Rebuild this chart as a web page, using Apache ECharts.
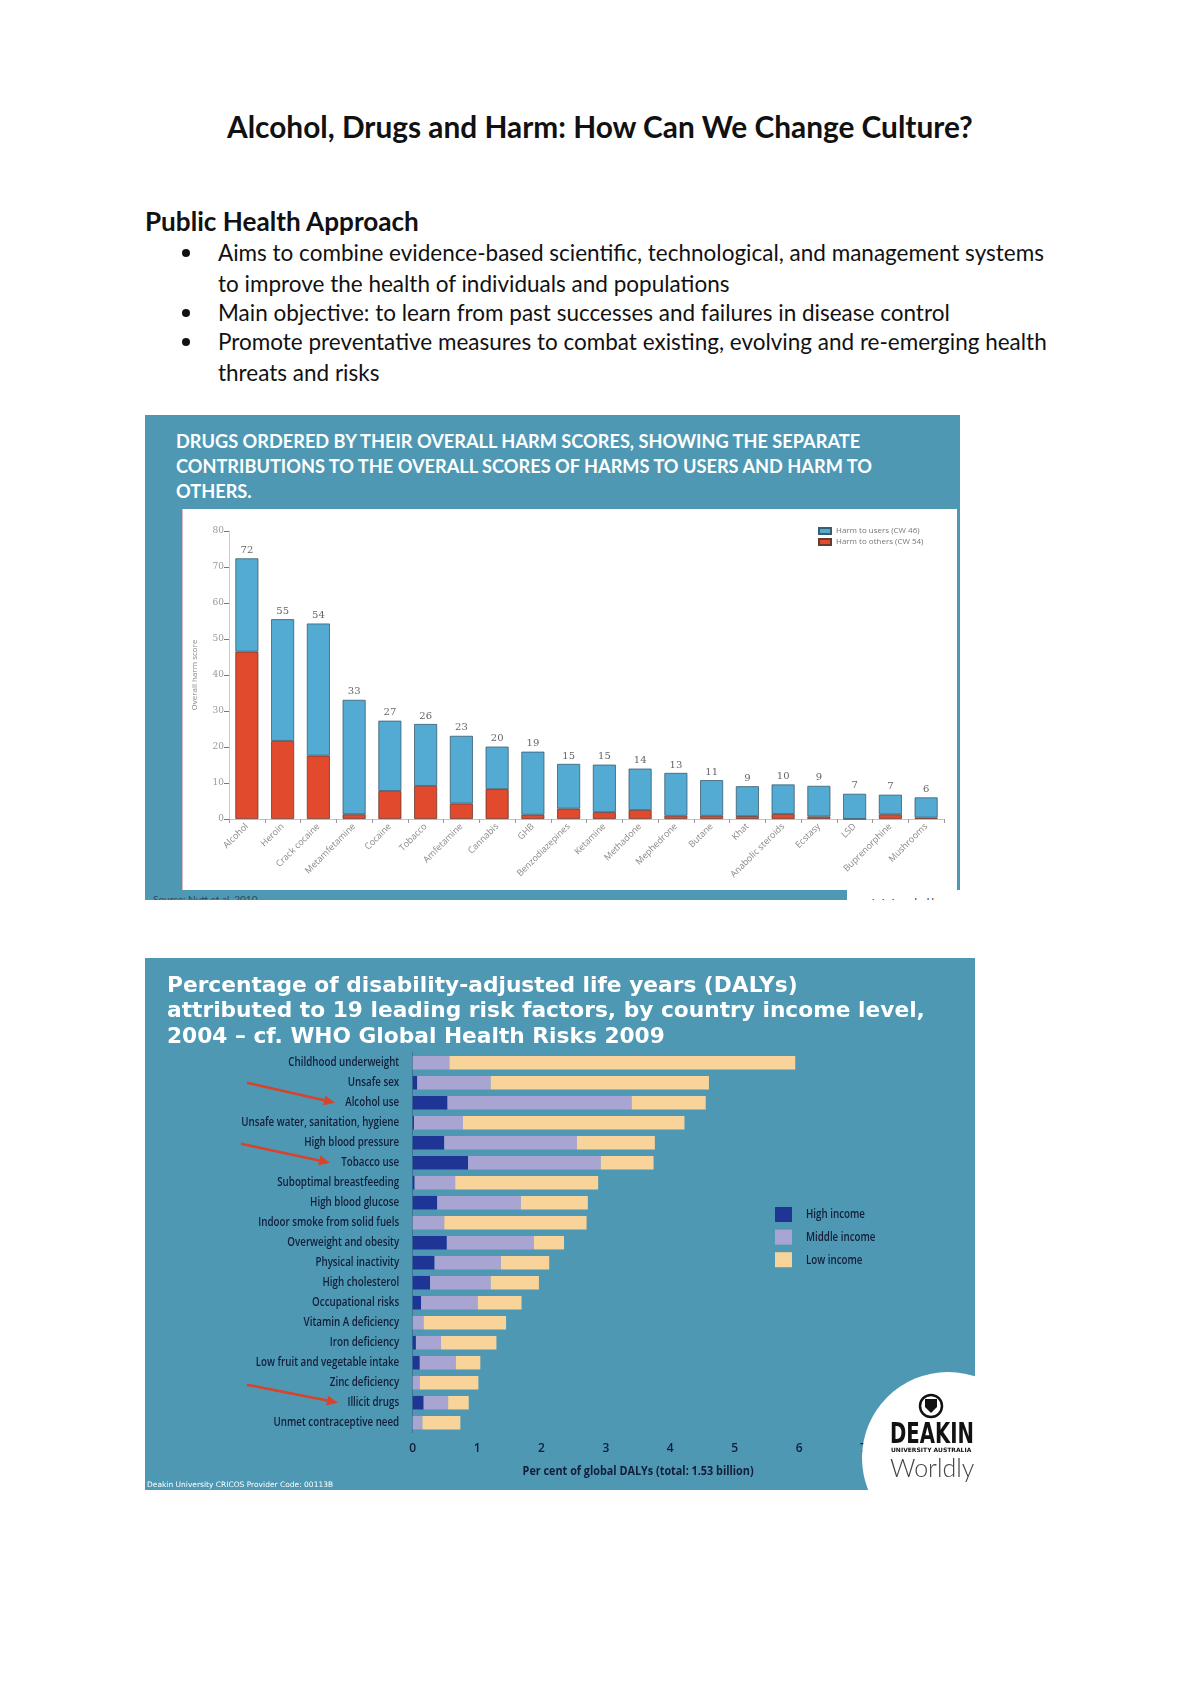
<!DOCTYPE html>
<html><head><meta charset="utf-8">
<script src="https://cdn.jsdelivr.net/npm/echarts@6/dist/echarts.min.js"></script>
<style>
html,body{margin:0;padding:0;background:#fff;}
body{width:1200px;height:1698px;position:relative;overflow:hidden;font-family:Lato,'Open Sans',sans-serif;color:#111;}
.t{position:absolute;white-space:nowrap;line-height:normal;}
.dot{position:absolute;width:8px;height:8px;border-radius:50%;background:#111;}
#p1{position:absolute;left:145px;top:415px;width:815px;height:485px;background:#4e98b4;}
#c1{position:absolute;left:182px;top:509px;width:774px;height:381px;background:#fff;border-left:1px solid #d8b9c2;}
#c2{position:absolute;left:145px;top:958px;width:830px;height:532px;background:#4e98b4;}
#strip{position:absolute;left:145px;top:890px;width:815px;height:10px;overflow:hidden;}
</style></head><body>
<div id="p1"></div>
<div id="strip"></div>
<div id="c1"></div>
<div id="c2"></div>
<script>
// ---------- data: chart 1 (Nutt et al. 2010) ----------
const drugs = ['Alcohol','Heroin','Crack cocaine','Metamfetamine','Cocaine','Tobacco','Amfetamine','Cannabis','GHB','Benzodiazepines','Ketamine','Methadone','Mephedrone','Butane','Khat','Anabolic steroids','Ecstasy','LSD','Buprenorphine','Mushrooms'];
const harmToOthers = [46.5,21.7,17.6,1.3,7.8,9.2,4.3,8.3,1.2,2.9,1.9,2.5,0.9,0.9,0.8,1.4,0.7,0,1.3,0.4];
const harmToUsers = [25.9,33.8,36.7,31.8,19.5,17.2,18.8,11.8,17.5,12.4,13.2,11.5,11.9,9.9,8.3,8.2,8.5,7.0,5.45,5.6];
const overallLabels = [72,55,54,33,27,26,23,20,19,15,15,14,13,11,9,10,9,7,7,6];
const harmTicks = [0,10,20,30,40,50,60,70,80];

// ---------- data: chart 2 (WHO Global Health Risks 2009) ----------
const riskFactors = ['Childhood underweight','Unsafe sex','Alcohol use','Unsafe water, sanitation, hygiene','High blood pressure','Tobacco use','Suboptimal breastfeeding','High blood glucose','Indoor smoke from solid fuels','Overweight and obesity','Physical inactivity','High cholesterol','Occupational risks','Vitamin A deficiency','Iron deficiency','Low fruit and vegetable intake','Zinc deficiency','Illicit drugs','Unmet contraceptive need'];
const highIncome   = [0,0.07,0.54,0.02,0.49,0.86,0.03,0.38,0,0.53,0.34,0.27,0.13,0,0.05,0.11,0,0.17,0];
const middleIncome = [0.57,1.14,2.86,0.76,2.06,2.06,0.63,1.30,0.49,1.35,1.03,0.94,0.88,0.17,0.39,0.56,0.11,0.38,0.15];
const lowIncome    = [5.37,3.39,1.15,3.44,1.21,0.82,2.22,1.04,2.21,0.47,0.75,0.75,0.68,1.28,0.86,0.38,0.91,0.32,0.59];
const incomeGroups = ['High income','Middle income','Low income'];
const dalyTicks = [0,1,2,3,4,5,6,7];
const dalyAxisName = 'Per cent of global DALYs (total: 1.53 billion)';
const arrowedRisks = ['Alcohol use','Tobacco use','Illicit drugs'];

// ---------- page text ----------
const pageTitle = 'Alcohol, Drugs and Harm: How Can We Change Culture?';
const sectionHeading = 'Public Health Approach';
const bulletLines = [
  ['Aims to combine evidence-based scientific, technological, and management systems','to improve the health of individuals and populations'],
  ['Main objective: to learn from past successes and failures in disease control'],
  ['Promote preventative measures to combat existing, evolving and re-emerging health','threats and risks']
];
const panel1Title = ['DRUGS ORDERED BY THEIR OVERALL HARM SCORES, SHOWING THE SEPARATE','CONTRIBUTIONS TO THE OVERALL SCORES OF HARMS TO USERS AND HARM TO','OTHERS.'];
const panel2Title = ['Percentage of disability-adjusted life years (DALYs)','attributed to 19 leading risk factors, by country income level,','2004 \u2013 cf. WHO Global Health Risks 2009'];

function placeText(txt, o){
  const el = document.createElement('div');
  el.className = 't';
  el.textContent = txt;
  el.style.fontFamily = o.font; el.style.fontWeight = o.weight || 'normal';
  el.style.fontSize = o.size + 'px'; el.style.color = o.color || '#111';
  el.style.left = o.x + 'px'; el.style.top = '0px';
  (o.parent || document.body).appendChild(el);
  let fs = o.size;
  if (o.width){ const w = el.getBoundingClientRect().width; fs = o.size * o.width / w; el.style.fontSize = fs + 'px'; }
  const probe = document.createElement('span');
  probe.style.cssText = 'display:inline-block;width:0;height:0;vertical-align:baseline';
  el.appendChild(probe);
  const base = probe.offsetTop;
  const baseline = (o.baseline !== undefined) ? o.baseline : o.cy + (o.capH || 0.72) * fs / 2;
  el.style.top = (baseline - base) + 'px';
  return fs;
}

placeText(pageTitle, {font:'Lato', weight:'bold', size:28, x:227, cy:127, width:746});
placeText(sectionHeading, {font:'Lato', weight:'bold', size:22, x:145, cy:222, width:274});
let bfs = null;
const bulletY = [[253,284],[313],[342,373]];
bulletLines.forEach((lines, i) => {
  const d = document.createElement('div'); d.className = 'dot';
  d.style.left = '182px'; d.style.top = (bulletY[i][0] - 4) + 'px';
  document.body.appendChild(d);
  lines.forEach((ln, j) => {
    if (bfs === null) bfs = placeText(ln, {font:'Lato', size:20, x:218, cy:bulletY[i][j], width:826});
    else placeText(ln, {font:'Lato', size:bfs, x:218, cy:bulletY[i][j]});
  });
});
let h1 = null;
[441,466,491].forEach((y, i) => {
  if (h1 === null) h1 = placeText(panel1Title[i], {font:'Lato', weight:'bold', size:17, x:176, cy:y, width:685, color:'#fff'});
  else placeText(panel1Title[i], {font:'Lato', weight:'bold', size:h1, x:176, cy:y, color:'#fff'});
});
let h2 = null;
[991.7,1017,1043.3].forEach((y, i) => {
  if (h2 === null) h2 = placeText(panel2Title[i], {font:'DejaVu Sans', weight:'bold', size:21, x:167, baseline:y, width:631, color:'#fff'});
  else placeText(panel2Title[i], {font:'DejaVu Sans', weight:'bold', size:h2, x:167, baseline:y, color:'#fff'});
});
// cut-off source strip under panel 1
(function(){
  const s = document.getElementById('strip');
  const a = document.createElement('div');
  a.style.cssText = 'position:absolute;left:8px;top:3px;font:10px Lato;color:#2c4a5a;white-space:nowrap';
  a.textContent = 'Source: Nutt et al. 2010'; s.appendChild(a);
  const w = document.createElement('div');
  w.style.cssText = 'position:absolute;left:702px;top:0;width:113px;height:10px;background:#fff';
  s.appendChild(w);
  const b = document.createElement('div');
  b.style.cssText = 'position:absolute;left:727px;top:2px;font:300 22px Lato;color:#444;white-space:nowrap';
  b.textContent = 'Worldly'; s.appendChild(b);
})();

// ---------- chart 1 ----------
const c1 = echarts.init(document.getElementById('c1'));
c1.setOption({
  animation:false,
  backgroundColor:'#fff',
  grid:{left:45, top:22, width:716, height:288},
  legend:{orient:'vertical', left:630, top:13, itemWidth:12, itemHeight:6, itemGap:3, icon:'rect',
    textStyle:{fontSize:8, color:'#777', fontFamily:'Open Sans'},
    data:['Harm to users (CW 46)','Harm to others (CW 54)']},
  xAxis:{type:'category', data:drugs,
    axisLine:{lineStyle:{color:'#c4c4c4'}},
    axisTick:{show:true, length:4, lineStyle:{color:'#999'}},
    axisLabel:{rotate:45, fontSize:9, color:'#888', margin:6, interval:0, fontFamily:'Open Sans'}},
  yAxis:{type:'value', min:harmTicks[0], max:harmTicks[harmTicks.length-1], interval:10,
    name:'Overall harm score', nameLocation:'middle', nameGap:30, nameRotate:90,
    nameTextStyle:{fontSize:8, color:'#888', fontFamily:'Open Sans'},
    axisLine:{show:true, lineStyle:{color:'#ccc'}},
    axisTick:{show:true, length:5, lineStyle:{color:'#777'}},
    axisLabel:{fontSize:9, color:'#999', margin:5, fontFamily:'DejaVu Serif'},
    splitLine:{show:false}},
  series:[
    {name:'Harm to others (CW 54)', type:'bar', stack:'t', data:harmToOthers, barWidth:23,
     itemStyle:{color:'#e14a2c', borderColor:'#6a3a2e', borderWidth:0.8}},
    {name:'Harm to users (CW 46)', type:'bar', stack:'t', data:harmToUsers, barWidth:23,
     itemStyle:{color:'#53aad3', borderColor:'#3a5e6e', borderWidth:0.8},
     label:{show:true, position:'top', distance:3, fontSize:10, color:'#666', fontFamily:'DejaVu Serif',
       formatter:p => String(overallLabels[p.dataIndex])}}
  ]
});

// ---------- chart 2 ----------
const ink = '#141d38';
const condFont = "600 13px 'Open Sans', sans-serif";
const mctx = document.createElement('canvas').getContext('2d');
function tw(font, text){ mctx.font = font; return mctx.measureText(text).width; }
const labelScale = 158 / tw(condFont, 'Unsafe water, sanitation, hygiene');

const c2 = echarts.init(document.getElementById('c2'));
c2.setOption({
  animation:false,
  backgroundColor:'transparent',
  grid:{left:267.7, top:94.7, width:450.8, height:380},
  legend:{orient:'vertical', left:630, top:249, padding:0, itemWidth:17, itemHeight:15, itemGap:7.6, icon:'rect',
    formatter:() => '', textStyle:{fontSize:1}, data:incomeGroups},
  xAxis:{type:'value', min:dalyTicks[0], max:dalyTicks[dalyTicks.length-1], interval:1,
    axisLine:{show:false}, axisTick:{show:false}, splitLine:{show:false},
    axisLabel:{fontSize:12, color:ink, margin:10, fontFamily:'Open Sans', fontWeight:600}},
  yAxis:{type:'category', inverse:true, data:riskFactors,
    axisLine:{show:true, lineStyle:{color:'#3d7590', width:1}},
    axisTick:{show:false},
    axisLabel:{show:false}},
  series:[
    {name:incomeGroups[0], type:'bar', stack:'d', data:highIncome, barWidth:13.5, itemStyle:{color:'#1f3596'}},
    {name:incomeGroups[1], type:'bar', stack:'d', data:middleIncome, barWidth:13.5, itemStyle:{color:'#a9a5d3'}},
    {name:incomeGroups[2], type:'bar', stack:'d', data:lowIncome, barWidth:13.5, itemStyle:{color:'#f8d49b'}}
  ]
});

// condensed category labels placed on the category axis positions
let g = [];
const axisX = c2.convertToPixel({xAxisIndex:0}, 0);
riskFactors.forEach(r => {
  const y = c2.convertToPixel({yAxisIndex:0}, r);
  g.push({type:'text', x:axisX - 13.5, y:y, scaleX:labelScale, z:50,
    style:{text:r, font:condFont, fill:ink, align:'right', verticalAlign:'middle'}});
});
// legend labels
const legY = [256.3, 279, 301.8];
incomeGroups.forEach((n, i) => {
  g.push({type:'text', x:661, y:legY[i], scaleX:labelScale, z:50,
    style:{text:n, font:condFont, fill:ink, align:'left', verticalAlign:'middle'}});
});
// axis name
const nameFont = "bold 13px 'Open Sans', sans-serif";
g.push({type:'text', x:c2.convertToPixel({xAxisIndex:0}, 3.5), y:513, scaleX:231 / tw(nameFont, dalyAxisName), z:50,
  style:{text:dalyAxisName, font:nameFont, fill:ink, align:'center', verticalAlign:'middle'}});

// annotation arrows
function arrow(tx, ty, hx, hy){
  const dx = hx - tx, dy = hy - ty, L = Math.hypot(dx, dy), ux = dx / L, uy = dy / L;
  const hl = 11, hw = 5;
  const bx = hx - ux * hl, by = hy - uy * hl;
  return [
    {type:'line', shape:{x1:tx, y1:ty, x2:bx, y2:by}, style:{stroke:'#d8432a', lineWidth:2.6}, z:100},
    {type:'polygon', shape:{points:[[hx,hy],[bx - uy*hw, by + ux*hw],[bx + uy*hw, by - ux*hw]]}, style:{fill:'#d8432a'}, z:100}
  ];
}
const arrowX = {'Alcohol use':[102,190], 'Tobacco use':[96,185], 'Illicit drugs':[102,193]};
const arrowRise = {'Alcohol use':20, 'Tobacco use':19, 'Illicit drugs':18};
arrowedRisks.forEach(r => {
  const y = c2.convertToPixel({yAxisIndex:0}, r);
  g = g.concat(arrow(arrowX[r][0], y - arrowRise[r], arrowX[r][1], y));
});
// Deakin logo and footer
const deakFont = "bold 29px 'DejaVu Sans', sans-serif";
g.push({type:'circle', shape:{cx:803, cy:500, r:86}, style:{fill:'#fff'}, z:200});
g.push({type:'circle', shape:{cx:786, cy:448, r:11}, style:{fill:'#fff', stroke:'#111', lineWidth:2.5}, z:201});
g.push({type:'polygon', shape:{points:[[780,441],[792,441],[792,449],[786,455],[780,449]]}, style:{fill:'#111'}, z:202});
g.push({type:'text', x:745, y:477, scaleX:84 / tw(deakFont, 'DEAKIN'), style:{text:'DEAKIN', font:deakFont, fill:'#111', verticalAlign:'middle'}, z:201});
g.push({type:'text', x:746, y:492, style:{text:'UNIVERSITY AUSTRALIA', font:"bold 6px 'DejaVu Sans', sans-serif", fill:'#111', verticalAlign:'middle'}, z:201});
g.push({type:'text', x:745, y:511, style:{text:'Worldly', font:"300 25px Lato, sans-serif", fill:'#444', verticalAlign:'middle'}, z:201});
g.push({type:'text', x:2, y:527, style:{text:'Deakin University CRICOS Provider Code: 00113B', font:"7.5px 'DejaVu Sans', sans-serif", fill:'#fff', verticalAlign:'middle'}, z:201});
c2.setOption({graphic:g});
</script>
</body></html>
